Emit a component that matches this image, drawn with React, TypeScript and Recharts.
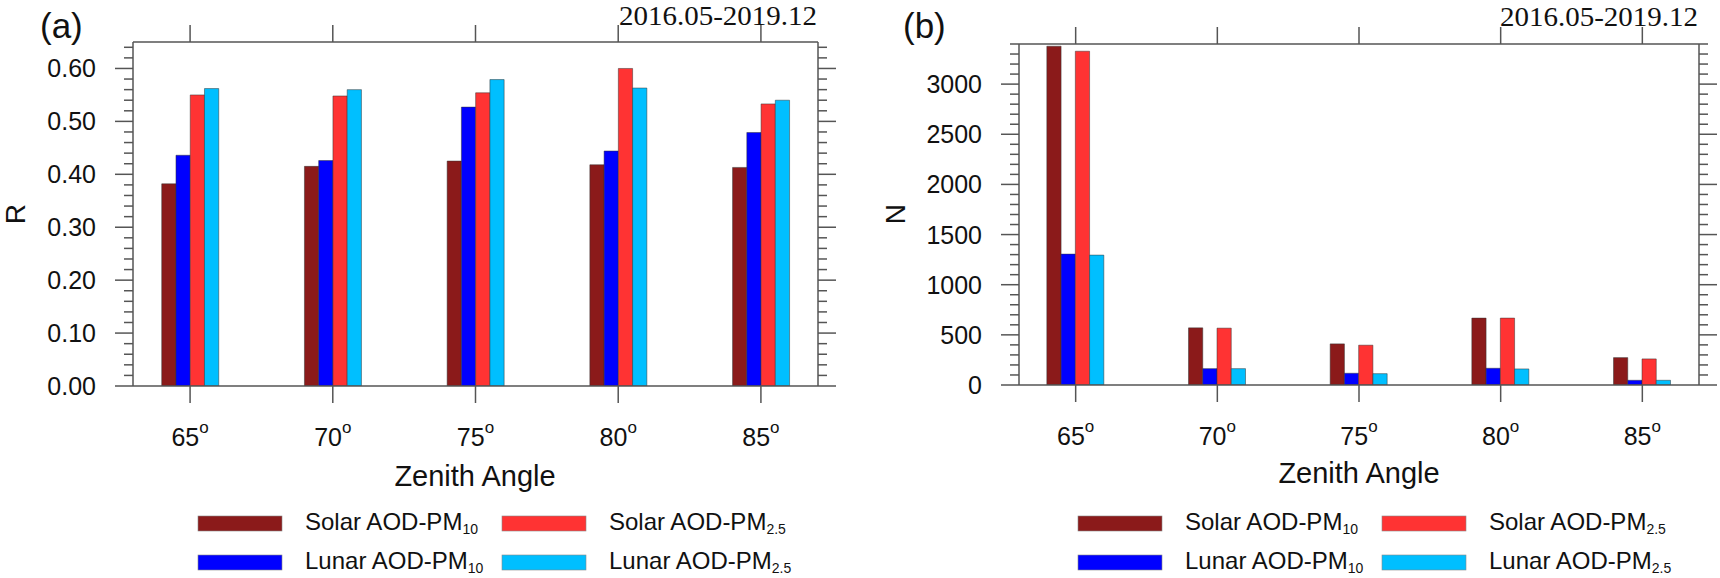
import React from "react";
import { BarChart, Bar, XAxis, YAxis } from "recharts";

// zenith angle categories
const ANGLES = [65, 70, 75, 80, 85];

const SERIES = ["solarPM10", "lunarPM10", "solarPM25", "lunarPM25"];
const COLORS = ["#8b1a1a", "#0000ff", "#ff3333", "#00bfff"];
const LEGEND_MAIN = ["Solar AOD-PM", "Lunar AOD-PM", "Solar AOD-PM", "Lunar AOD-PM"];
const LEGEND_SUB = ["10", "10", "2.5", "2.5"];

// (a) correlation R
const R_SOLAR_PM10 = [0.382, 0.415, 0.425, 0.418, 0.413];
const R_LUNAR_PM10 = [0.436, 0.426, 0.527, 0.444, 0.479];
const R_SOLAR_PM25 = [0.55, 0.548, 0.554, 0.6, 0.533];
const R_LUNAR_PM25 = [0.562, 0.56, 0.579, 0.563, 0.54];

// (b) sample count N
const N_SOLAR_PM10 = [3378, 570, 410, 667, 273];
const N_LUNAR_PM10 = [1305, 163, 117, 167, 47];
const N_SOLAR_PM25 = [3328, 567, 397, 667, 260];
const N_LUNAR_PM25 = [1295, 163, 113, 160, 47];

const R_TICKS = [0, 0.1, 0.2, 0.3, 0.4, 0.5, 0.6];
const N_TICKS = [0, 500, 1000, 1500, 2000, 2500, 3000];
const R_MINOR = Array.from({ length: 33 }, (_, i) => Math.round(i * 2) / 100);
const N_MINOR = Array.from({ length: 35 }, (_, i) => i * 100);

const PERIOD = "2016.05-2019.12";
const AXIS = "#555";
const SANS = "'Liberation Sans', Arial, sans-serif";
const SERIF = "'Liberation Serif', 'Times New Roman', serif";

const buildRows = (cols: number[][]) =>
  ANGLES.map((angle, i) => {
    const row: Record<string, number> = { angle };
    SERIES.forEach((key, s) => {
      row[key] = cols[s][i];
    });
    return row;
  });

const rData = buildRows([R_SOLAR_PM10, R_LUNAR_PM10, R_SOLAR_PM25, R_LUNAR_PM25]);
const nData = buildRows([N_SOLAR_PM10, N_LUNAR_PM10, N_SOLAR_PM25, N_LUNAR_PM25]);

const makeYTick = (majors: number[], fmt: (v: number) => string, side: "left" | "right") =>
  (props: any) => {
    const { x, y, payload } = props;
    const major = majors.some((m) => Math.abs(m - payload.value) < 1e-9);
    const len = major ? 18 : 9;
    const dir = side === "left" ? -1 : 1;
    return (
      <g>
        <line x1={x} x2={x + dir * len} y1={y} y2={y} stroke={AXIS} strokeWidth={1.5} />
        {side === "left" && major && (
          <text x={x - 37} y={y + 9} textAnchor="end" fontSize={25} fontFamily={SANS} fill="#111">
            {fmt(payload.value)}
          </text>
        )}
      </g>
    );
  };

const XTick = (props: any) => (
  <text x={props.x} y={props.y + 43} textAnchor="middle" fontSize={25} fontFamily={SANS} fill="#111">
    {props.payload.value}
    <tspan dy={-13} fontSize={17}>o</tspan>
  </text>
);

const EmptyTick = () => <g />;

interface PanelProps {
  data: Record<string, number>[];
  left: number;
  yMax: number;
  majors: number[];
  minors: number[];
  fmt: (v: number) => string;
  yAxisW: number;
  rightW: number;
  topH: number;
  bottomH: number;
}

function Panel({ data, left, yMax, majors, minors, fmt, yAxisW, rightW, topH, bottomH }: PanelProps) {
  return (
    <div style={{ position: "absolute", left, top: 0 }}>
      <BarChart
        width={860}
        height={578}
        data={data}
        margin={{ top: 0, right: 0, bottom: 0, left: 0 }}
        barGap={0}
      >
        <XAxis
          xAxisId="bottom"
          dataKey="angle"
          type="number"
          domain={[63, 87]}
          allowDataOverflow
          ticks={ANGLES}
          interval={0}
          height={bottomH}
          tickSize={17}
          tickMargin={0}
          stroke={AXIS}
          strokeWidth={1.5}
          tick={XTick}
        />
        <XAxis
          xAxisId="top"
          orientation="top"
          dataKey="angle"
          type="number"
          domain={[63, 87]}
          allowDataOverflow
          ticks={ANGLES}
          interval={0}
          height={topH}
          tickSize={17}
          stroke={AXIS}
          strokeWidth={1.5}
          tick={EmptyTick}
        />
        <YAxis
          yAxisId="left"
          domain={[0, yMax]}
          allowDataOverflow
          ticks={minors}
          interval={0}
          width={yAxisW}
          tickSize={0}
          tickMargin={0}
          tickLine={false}
          stroke={AXIS}
          strokeWidth={1.5}
          tick={makeYTick(majors, fmt, "left")}
        />
        <YAxis
          yAxisId="right"
          orientation="right"
          domain={[0, yMax]}
          allowDataOverflow
          ticks={minors}
          interval={0}
          width={rightW}
          tickSize={0}
          tickMargin={0}
          tickLine={false}
          stroke={AXIS}
          strokeWidth={1.5}
          tick={makeYTick(majors, fmt, "right")}
        />
        {SERIES.map((key, s) => (
          <Bar
            key={key}
            dataKey={key}
            xAxisId="bottom"
            yAxisId="left"
            fill={COLORS[s]}
            stroke="#333"
            strokeWidth={0.5}
            barSize={14.25}
            isAnimationActive={false}
          />
        ))}
      </BarChart>
    </div>
  );
}

function LegendBlock({ x0 }: { x0: number }) {
  return (
    <g>
      {SERIES.map((key, s) => {
        const col = s >= 2 ? 1 : 0;
        const row = s % 2;
        const sx = x0 + col * 304;
        const sy = 516 + row * 39;
        return (
          <g key={key}>
            <rect x={sx} y={sy} width={84} height={15} fill={COLORS[s]} stroke="#888" strokeWidth={0.6} />
            <text x={sx + 107} y={sy + 14} fontSize={24} fontFamily={SANS} fill="#111">
              {LEGEND_MAIN[s]}
              <tspan dy={4} fontSize={14}>{LEGEND_SUB[s]}</tspan>
            </text>
          </g>
        );
      })}
    </g>
  );
}

export default function App() {
  return (
    <div style={{ position: "absolute", left: 0, top: 0, width: 1720, height: 578, background: "#fff", overflow: "hidden" }}>
      <Panel
        data={rData}
        left={0}
        yMax={0.65}
        majors={R_TICKS}
        minors={R_MINOR}
        fmt={(v) => v.toFixed(2)}
        yAxisW={133}
        rightW={42}
        topH={42}
        bottomH={192}
      />
      <Panel
        data={nData}
        left={860}
        yMax={3400}
        majors={N_TICKS}
        minors={N_MINOR}
        fmt={(v) => String(v)}
        yAxisW={159}
        rightW={21}
        topH={44}
        bottomH={193}
      />
      <svg width={1720} height={578} style={{ position: "absolute", left: 0, top: 0, pointerEvents: "none" }}>
        <text x={40} y={38} fontSize={35} fontFamily={SANS} fill="#111">(a)</text>
        <text x={903} y={38} fontSize={35} fontFamily={SANS} fill="#111">(b)</text>
        <text x={817} y={25} textAnchor="end" fontSize={27} textLength={198} lengthAdjust="spacingAndGlyphs" fontFamily={SERIF} fill="#111">{PERIOD}</text>
        <text x={1698} y={26} textAnchor="end" fontSize={27} textLength={198} lengthAdjust="spacingAndGlyphs" fontFamily={SERIF} fill="#111">{PERIOD}</text>
        <text x={25} y={214} transform="rotate(-90 25 214)" textAnchor="middle" fontSize={28} fontFamily={SANS} fill="#111">R</text>
        <text x={905} y={214} transform="rotate(-90 905 214)" textAnchor="middle" fontSize={28} fontFamily={SANS} fill="#111">N</text>
        <text x={475} y={486} textAnchor="middle" fontSize={29} fontFamily={SANS} fill="#111">Zenith Angle</text>
        <text x={1359} y={483} textAnchor="middle" fontSize={29} fontFamily={SANS} fill="#111">Zenith Angle</text>
        <LegendBlock x0={198} />
        <LegendBlock x0={1078} />
      </svg>
    </div>
  );
}
